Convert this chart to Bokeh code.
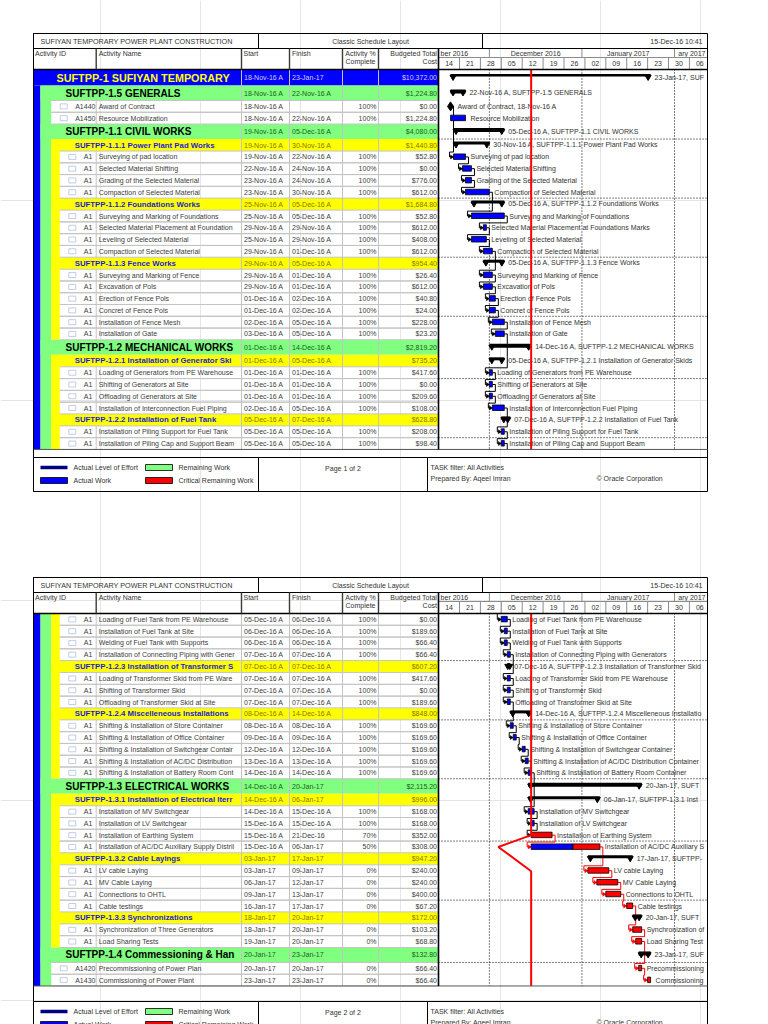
import datetime as dt
from bokeh.plotting import figure
from bokeh.models import Range1d, ColumnDataSource
from bokeh.core.properties import value
from bokeh.embed import file_html
from bokeh.resources import INLINE

# ---------------------------------------------------------------- data
row_levels = [
    "P", "W1", "A", "A", "W1", "W2", "A", "A", "A", "A",
    "W2", "A", "A", "A", "A", "W2", "A", "A", "A", "A",
    "A", "A", "W1", "W2", "A", "A", "A", "A", "W2", "A",
    "A",
    "A", "A", "A", "A", "W2", "A", "A", "A", "W2", "A",
    "A", "A", "A", "A", "W1", "W2", "A", "A", "A", "A",
    "W2", "A", "A", "A", "A", "W2", "A", "A", "W1", "A",
    "A",
]
activity_ids = [
    "SUFTPP-1", "SUFTPP-1.5", "A1440", "A1450", "SUFTPP-1.1", "SUFTPP-1.1.1", "A1", "A1", "A1", "A1",
    "SUFTPP-1.1.2", "A1", "A1", "A1", "A1", "SUFTPP-1.1.3", "A1", "A1", "A1", "A1",
    "A1", "A1", "SUFTPP-1.2", "SUFTPP-1.2.1", "A1", "A1", "A1", "A1", "SUFTPP-1.2.2", "A1",
    "A1",
    "A1", "A1", "A1", "A1", "SUFTPP-1.2.3", "A1", "A1", "A1", "SUFTPP-1.2.4", "A1",
    "A1", "A1", "A1", "A1", "SUFTPP-1.3", "SUFTPP-1.3.1", "A1", "A1", "A1", "A1",
    "SUFTPP-1.3.2", "A1", "A1", "A1", "A1", "SUFTPP-1.3.3", "A1", "A1", "SUFTPP-1.4", "A1420",
    "A1430",
]
table_names = [
    "SUFIYAN TEMPORARY", "GENERALS", "Award of Contract", "Resource Mobilization", "CIVIL WORKS",
    "Power Plant Pad Works", "Surveying of pad location", "Selected Material Shifting",
    "Grading of the Selected Material", "Compaction of Selected Material",
    "Foundations Works", "Surveying and Marking of Foundations", "Selected Material Placement at Foundation",
    "Leveling of Selected Material", "Compaction of Selected Material",
    "Fence Works", "Surveying and Marking of Fence", "Excavation of Pols", "Erection of Fence Pols",
    "Concret of Fence Pols", "Installation of Fence Mesh", "Installation of Gate",
    "MECHANICAL WORKS", "Installation of Generator Ski", "Loading of Generators from PE Warehouse",
    "Shifting of Generators at Site", "Offloading of Generators at Site",
    "Installation of Interconnection Fuel Piping", "Installation of Fuel Tank",
    "Installation of Piling Support for Fuel Tank", "Installation of Piling Cap and Support Beam",
    "Loading of Fuel Tank from PE Warehouse", "Installation of Fuel Tank at Site",
    "Welding of Fuel Tank with Supports", "Installation of Connecting Piping with Gener",
    "Installation of Transformer S", "Loading of Transformer Skid from PE Ware",
    "Shifting of Transformer Skid", "Offloading of Transformer Skid at Site",
    "Miscelleneous Installations", "Shifting & Installation of Store Container",
    "Shifting & Installation of Office Container", "Shifting & Installation of Switchgear Contair",
    "Shifting & Installation of AC/DC Distribution", "Shifting & Installation of Battery Room Cont",
    "ELECTRICAL WORKS", "Installation of Electrical Iterr", "Installation of MV Switchgear",
    "Installation of LV Switchgear", "Installation of Earthing System",
    "Installation of AC/DC Auxiliary Supply Distril", "Cable Layings", "LV cable Laying",
    "MV Cable Laying", "Connections to OHTL", "Cable testings", "Synchronizations",
    "Synchronization of Three Generators", "Load Sharing Tests", "Commessioning & Han",
    "Precommissioning of Power Plan", "Commissioning of Power Plant",
]
# bar labels as they are visible up to the page edge
bar_labels = [
    "23-Jan-17, SUF",
    "22-Nov-16 A, SUFTPP-1.5  GENERALS",
    "Award of Contract, 18-Nov-16 A",
    "Resource Mobilization",
    "05-Dec-16 A, SUFTPP-1.1  CIVIL WORKS",
    "30-Nov-16 A, SUFTPP-1.1.1  Power Plant Pad Works",
    "Surveying of pad location", "Selected Material Shifting",
    "Grading of the Selected Material", "Compaction of Selected Material",
    "05-Dec-16 A, SUFTPP-1.1.2  Foundations Works",
    "Surveying and Marking of Foundations", "Selected Material Placement at Foundations Marks",
    "Leveling of Selected Material", "Compaction of Selected Material",
    "05-Dec-16 A, SUFTPP-1.1.3  Fence Works",
    "Surveying and Marking of Fence", "Excavation of Pols", "Erection of Fence Pols",
    "Concret of Fence Pols", "Installation of Fence Mesh", "Installation of Gate",
    "14-Dec-16 A, SUFTPP-1.2  MECHANICAL WORKS",
    "05-Dec-16 A, SUFTPP-1.2.1  Installation of Generator Skids",
    "Loading of Generators from PE Warehouse", "Shifting of Generators at Site",
    "Offloading of Generators at Site", "Installation of Interconnection Fuel Piping",
    "07-Dec-16 A, SUFTPP-1.2.2  Installation of Fuel Tank",
    "Installation of Piling Support for Fuel Tank", "Installation of Piling Cap and Support Beam",
    "Loading of Fuel Tank from PE Warehouse", "Installation of Fuel Tank at Site",
    "Welding of Fuel Tank with Supports", "Installation of Connecting Piping with Generators",
    "07-Dec-16 A, SUFTPP-1.2.3  Installation of Transformer Skid",
    "Loading of Transformer Skid from PE Warehouse", "Shifting of Transformer Skid",
    "Offloading of Transformer Skid at Site",
    "14-Dec-16 A, SUFTPP-1.2.4  Miscelleneous Installatio",
    "Shifting & Installation of Store Container", "Shifting & Installation of Office Container",
    "Shifting & Installation of Switchgear Container",
    "Shifting & Installation of AC/DC Distribution Container",
    "Shifting & Installation of Battery Room Container",
    "20-Jan-17, SUFT",
    "06-Jan-17, SUFTPP-1.3.1  Inst",
    "Installation of MV Switchgear", "Installation of LV Switchgear",
    "Installation of Earthing System", "Installation of AC/DC Auxiliary S",
    "17-Jan-17, SUFTPP-",
    "LV cable Laying", "MV Cable Laying", "Connections to OHTL", "Cable testings",
    "20-Jan-17, SUFT",
    "Synchronization of", "Load Sharing Test",
    "23-Jan-17, SUF",
    "Precommissioning", "Commissioning",
]
start_text = [
    "18-Nov-16 A", "18-Nov-16 A", "18-Nov-16 A", "18-Nov-16 A", "19-Nov-16 A", "19-Nov-16 A", "19-Nov-16 A", "22-Nov-16 A", "23-Nov-16 A", "23-Nov-16 A",
    "25-Nov-16 A", "25-Nov-16 A", "29-Nov-16 A", "25-Nov-16 A", "29-Nov-16 A", "29-Nov-16 A", "29-Nov-16 A", "29-Nov-16 A", "01-Dec-16 A", "01-Dec-16 A",
    "02-Dec-16 A", "03-Dec-16 A", "01-Dec-16 A", "01-Dec-16 A", "01-Dec-16 A", "01-Dec-16 A", "01-Dec-16 A", "02-Dec-16 A", "05-Dec-16 A", "05-Dec-16 A",
    "05-Dec-16 A",
    "05-Dec-16 A", "06-Dec-16 A", "06-Dec-16 A", "07-Dec-16 A", "07-Dec-16 A", "07-Dec-16 A", "07-Dec-16 A", "07-Dec-16 A", "08-Dec-16 A", "08-Dec-16 A",
    "09-Dec-16 A", "12-Dec-16 A", "13-Dec-16 A", "14-Dec-16 A", "14-Dec-16 A", "14-Dec-16 A", "14-Dec-16 A", "15-Dec-16 A", "15-Dec-16 A", "15-Dec-16 A",
    "03-Jan-17", "03-Jan-17", "06-Jan-17", "09-Jan-17", "16-Jan-17", "18-Jan-17", "18-Jan-17", "19-Jan-17", "20-Jan-17", "20-Jan-17",
    "23-Jan-17",
]
finish_text = [
    "23-Jan-17", "22-Nov-16 A", "", "22-Nov-16 A", "05-Dec-16 A", "30-Nov-16 A", "22-Nov-16 A", "24-Nov-16 A", "24-Nov-16 A", "30-Nov-16 A",
    "05-Dec-16 A", "05-Dec-16 A", "29-Nov-16 A", "29-Nov-16 A", "01-Dec-16 A", "05-Dec-16 A", "01-Dec-16 A", "01-Dec-16 A", "02-Dec-16 A", "02-Dec-16 A",
    "05-Dec-16 A", "05-Dec-16 A", "14-Dec-16 A", "05-Dec-16 A", "01-Dec-16 A", "01-Dec-16 A", "01-Dec-16 A", "05-Dec-16 A", "07-Dec-16 A", "05-Dec-16 A",
    "05-Dec-16 A",
    "06-Dec-16 A", "06-Dec-16 A", "06-Dec-16 A", "07-Dec-16 A", "07-Dec-16 A", "07-Dec-16 A", "07-Dec-16 A", "07-Dec-16 A", "14-Dec-16 A", "08-Dec-16 A",
    "09-Dec-16 A", "12-Dec-16 A", "13-Dec-16 A", "14-Dec-16 A", "20-Jan-17", "06-Jan-17", "15-Dec-16 A", "15-Dec-16 A", "21-Dec-16", "06-Jan-17",
    "17-Jan-17", "09-Jan-17", "12-Jan-17", "13-Jan-17", "17-Jan-17", "20-Jan-17", "20-Jan-17", "20-Jan-17", "23-Jan-17", "20-Jan-17",
    "23-Jan-17",
]
pct_complete = [
    None, None, 100, 100, None, None, 100, 100, 100, 100,
    None, 100, 100, 100, 100, None, 100, 100, 100, 100,
    100, 100, None, None, 100, 100, 100, 100, None, 100,
    100,
    100, 100, 100, 100, None, 100, 100, 100, None, 100,
    100, 100, 100, 100, None, None, 100, 100, 70, 50,
    None, 0, 0, 0, 0, None, 0, 0, None, 0,
    0,
]
costs = [
    "$10,372.00", "$1,224.80", "$0.00", "$1,224.80", "$4,080.00", "$1,440.80", "$52.80", "$0.00", "$776.00", "$612.00",
    "$1,684.80", "$52.80", "$612.00", "$408.00", "$612.00", "$954.40", "$26.40", "$612.00", "$40.80", "$24.00",
    "$228.00", "$23.20", "$2,819.20", "$735.20", "$417.60", "$0.00", "$209.60", "$108.00", "$628.80", "$208.00",
    "$98.40",
    "$0.00", "$189.60", "$66.40", "$66.40", "$607.20", "$417.60", "$0.00", "$189.60", "$848.00", "$169.60",
    "$169.60", "$169.60", "$169.60", "$169.60", "$2,115.20", "$996.00", "$168.00", "$168.00", "$352.00", "$308.00",
    "$947.20", "$240.00", "$240.00", "$400.00", "$67.20", "$172.00", "$103.20", "$68.80", "$132.80", "$66.40",
    "$66.40",
]
predecessors = [
    -1, -1, -1, -1, -1, -1, 2, 6, 7, 8,
    -1, 9, 11, 12, 13, -1, 14, 16, 17, 18,
    19, 20, -1, -1, 21, 24, 25, 26, -1, 27,
    29,
    30, 31, 32, 33, -1, 34, 36, 37, -1, 38,
    40, 41, 42, 43, -1, -1, 44, 47, 48, 49,
    -1, 50, 52, 53, 54, -1, 55, 57, -1, 58,
    60,
]
actual_through = {49: "15-Dec-16", 50: "29-Dec-16"}   # end of blue part of in-progress bars
data_date = "15-Dec-16"
progress_dates = ["15-Dec-16", "15-Dec-16", "04-Dec-16", "15-Dec-16", "15-Dec-16"]
progress_rows = [31, 49, 50, 52, 61]
progress_frac = [0.0, 0.5, 0.5, 0.55, 1.0]

month_labels_shown = ["ber 2016", "December 2016", "January 2017", "ary 2017"]
month_starts = ["01-Nov-16", "01-Dec-16", "01-Jan-17", "01-Feb-17"]
week_starts = ["14-Nov-16", "21-Nov-16", "28-Nov-16", "05-Dec-16", "12-Dec-16", "19-Dec-16", "26-Dec-16",
               "02-Jan-17", "09-Jan-17", "16-Jan-17", "23-Jan-17", "30-Jan-17", "06-Feb-17"]

report_title = "SUFIYAN TEMPORARY POWER PLANT CONSTRUCTION"
layout_name = "Classic Schedule Layout"
print_stamp = "15-Dec-16 10:41"
page_labels = ["Page 1 of 2", "Page 2 of 2"]
legend_labels = ["Actual Level of Effort", "Actual Work", "Remaining Work", "Critical Remaining Work"]
legend_colors = ["#000080", "#0000FF", "#80FF80", "#FF0000"]
footer_lines = ["TASK filter: All Activities", "Prepared By: Aqeel Imran"]
footer_copy = "\u00a9 Oracle Corporation"

# ---------------------------------------------------------------- layout
FONT = value("Liberation Sans")
X0, X1, Y0, Y1 = 0, 708, 0, 1024
PAGE_L, PAGE_R, PAGE_T = 33, 707, 33
HDR1_B, MONTH_B, HDR2_B = 48, 57, 69
FOOT_T, PAGE_B = 457, 491
PAGE_OFF = [0, 544]
ROWS_PER_PAGE = 31
C_NAME, C_START, C_FIN, C_PCT, C_COST, C_GANTT = 95.7, 241, 289, 342, 378, 438
BAND_X = [33, 40, 50.7, 59.3]
ROW_H = {"P": 16.0, "W1": 15.0, "W2": 12.0, "A": 11.77}
TITLE_DIV, STAMP_DIV, PAGE_DIV = 258, 482, 427

DAY_MS = 86400000.0
DAY_PX = 2.986
PX_MS = DAY_MS / DAY_PX
ANCHOR_DATE, ANCHOR_X = "21-Nov-16", 459.0
EPOCH = dt.datetime(1970, 1, 1)


def to_dt(s):
    return dt.datetime.strptime(s[:9], "%d-%b-%y")


def t_ms(s):
    return (to_dt(s) - EPOCH).total_seconds() * 1000.0


t0 = t_ms(ANCHOR_DATE) + (X0 - ANCHOR_X) * PX_MS
t1 = t_ms(ANCHOR_DATE) + (X1 - ANCHOR_X) * PX_MS

p = figure(width=X1 - X0, height=Y1 - Y0, x_range=Range1d(X0, X1), y_range=Range1d(Y1, Y0),
           output_backend="svg", toolbar_location=None, x_axis_location=None, y_axis_location=None,
           min_border=0, outline_line_color=None, title=None)
p.extra_x_ranges = {"t": Range1d(t0, t1)}
p.background_fill_color = "white"
p.border_fill_color = "white"


def quads(l, r, t, b, fill, line=None, lw=1.0, rng="default"):
    if not l:
        return
    if isinstance(fill, str):
        fill = [fill] * len(l)
    src = ColumnDataSource(dict(l=l, r=r, t=t, b=b, f=fill))
    p.quad(left="l", right="r", top="t", bottom="b", source=src, fill_color="f",
           line_color=line, line_width=lw, x_range_name=rng)


def segs(x0, y0, x1, y1, color, width=1.0, dash="solid", rng="default"):
    if not x0:
        return
    src = ColumnDataSource(dict(x0=x0, y0=y0, x1=x1, y1=y1))
    p.segment("x0", "y0", "x1", "y1", source=src, line_color=color, line_width=width,
              line_dash=dash, x_range_name=rng)


def texts(xs, ys, labels, size, colors="#333333", align="left", baseline="middle",
          bold=False, rng="default", x_offset=0):
    if not labels:
        return
    if isinstance(colors, str):
        colors = [colors] * len(labels)
    src = ColumnDataSource(dict(x=xs, y=ys, text=labels, c=colors))
    p.text(x="x", y="y", text="text", source=src, text_color="c", text_font=FONT,
           text_font_size=value(f"{size}px"), text_font_style="bold" if bold else "normal",
           text_align=align, text_baseline=baseline, x_offset=x_offset, x_range_name=rng)


# row geometry
n = len(row_levels)
page_of = [i // ROWS_PER_PAGE for i in range(n)]
rows_top = [HDR2_B + o for o in PAGE_OFF]
rows_end = list(rows_top)
ytop, ybot = [], []
for i, lev in enumerate(row_levels):
    pg = page_of[i]
    ytop.append(rows_end[pg])
    rows_end[pg] += ROW_H[lev]
    ybot.append(rows_end[pg])
yc = [(a + b) / 2 for a, b in zip(ytop, ybot)]
under_w2 = []
cur = None
for lev in row_levels:
    if lev != "A":
        cur = lev
    under_w2.append(cur == "W2")
white_x = [BAND_X[3] if under_w2[i] else BAND_X[2] for i in range(n)]

# ---------------------------------------------------------------- table fills
LEVEL_FILL = {"P": "#0000FF", "W1": "#80FF80", "W2": "#FFFF00"}
LEVEL_LEFT = {"P": BAND_X[0], "W1": BAND_X[1], "W2": BAND_X[2]}
fl, fr, ft, fb, fc = [], [], [], [], []
for pg in range(2):
    idx = [i for i in range(n) if page_of[i] == pg]
    top = ybot[idx[0]] if row_levels[idx[0]] == "P" else ytop[idx[0]]
    fl += [BAND_X[0], BAND_X[1]]; fr += [BAND_X[1], BAND_X[2]]
    ft += [top, top]; fb += [rows_end[pg], rows_end[pg]]; fc += ["#0000FF", "#80FF80"]
runs, cur = [], None
for i in range(n):
    inside = row_levels[i] == "W2" or (row_levels[i] == "A" and under_w2[i])
    if inside:
        if cur is None or page_of[cur[1]] != page_of[i]:
            if cur:
                runs.append(cur)
            cur = [i, i]
        else:
            cur[1] = i
    elif cur:
        runs.append(cur)
        cur = None
if cur:
    runs.append(cur)
for a, b in runs:
    fl.append(BAND_X[2]); fr.append(BAND_X[3]); ft.append(ytop[a]); fb.append(ybot[b]); fc.append("#FFFF00")
for i, lev in enumerate(row_levels):
    if lev in LEVEL_FILL:
        fl.append(LEVEL_LEFT[lev]); fr.append(C_GANTT); ft.append(ytop[i]); fb.append(ybot[i])
        fc.append(LEVEL_FILL[lev])
quads(fl, fr, ft, fb, fc)

# table grid
gx0, gy0, gx1, gy1 = [], [], [], []
for i, lev in enumerate(row_levels):
    if lev == "A":
        for y in (ytop[i], ybot[i]):
            gx0.append(white_x[i]); gx1.append(C_GANTT); gy0.append(y); gy1.append(y)
        gx0.append(C_NAME); gx1.append(C_NAME); gy0.append(ytop[i]); gy1.append(ybot[i])
for pg in range(2):
    for x in (C_START, C_FIN, C_PCT, C_COST):
        gx0.append(x); gx1.append(x); gy0.append(rows_top[pg]); gy1.append(rows_end[pg])
segs(gx0, gy0, gx1, gy1, "#c4c4c4", 1.0)

# activity icons
icons = [i for i in range(n) if row_levels[i] == "A"]
quads([white_x[i] + 9 for i in icons], [white_x[i] + 16 for i in icons],
      [yc[i] - 2.5 for i in icons], [yc[i] + 2.5 for i in icons], "#ffffff", line="#b0c2dc", lw=0.8)

# ---------------------------------------------------------------- gantt guides
vx, vy0, vy1 = [], [], []
for pg in range(2):
    for m in month_starts[1:]:
        vx.append(t_ms(m)); vy0.append(rows_top[pg]); vy1.append(rows_end[pg])
segs(vx, vy0, vx, vy1, "#000000", 1.0, "1 2", "t")
hx0, hy, hx1 = [], [], []
for i in range(n):
    if i % 5 == 4:
        hx0.append(C_GANTT); hx1.append(PAGE_R); hy.append(ybot[i])
segs(hx0, hy, hx1, hy, "#000000", 1.0, "1 2")

# ---------------------------------------------------------------- relationships
conn = {"#000000": ([], []), "#FF0000": ([], [])}
heads = {"#000000": ([], []), "#FF0000": ([], [])}
for si, pi in enumerate(predecessors):
    if pi < 0:
        continue
    xs_ = t_ms(start_text[si])
    xf = t_ms(start_text[pi]) if finish_text[pi] == "" else t_ms(finish_text[pi]) + DAY_MS
    col = "#FF0000" if pct_complete[pi] < 100 else "#000000"
    xa, xb = xf + 3 * PX_MS, xs_ - 4 * PX_MS
    if page_of[si] == page_of[pi]:
        conn[col][0].append([xf, xa, xa, xb, xb, xs_])
        conn[col][1].append([yc[pi], yc[pi], ytop[si] + 1, ytop[si] + 1, yc[si], yc[si]])
    else:
        conn[col][0].append([xf, xa, xa])
        conn[col][1].append([yc[pi], yc[pi], rows_end[page_of[pi]]])
        conn[col][0].append([xb, xb, xs_])
        conn[col][1].append([rows_top[page_of[si]], yc[si], yc[si]])
    heads[col][0].append([xs_ - 3 * PX_MS, xs_ - 3 * PX_MS, xs_])
    heads[col][1].append([yc[si] - 2, yc[si] + 2, yc[si]])
for col in conn:
    if conn[col][0]:
        p.multi_line(xs=conn[col][0], ys=conn[col][1], line_color=col, line_width=1, x_range_name="t")
        p.patches(xs=heads[col][0], ys=heads[col][1], fill_color=col, line_color=col,
                  line_width=0.5, x_range_name="t")

# ---------------------------------------------------------------- bars
SUM_H = {"P": 2.5, "W1": 4.0, "W2": 3.0}
sl, sr, st, sb = [], [], [], []
tri_x, tri_y = [], []
blue_b, red_b = ([], [], [], []), ([], [], [], [])
mil_x, mil_y = [], []
lab_x, lab_y, lab_t, lab_off = [], [], [], []
for i, lev in enumerate(row_levels):
    s = t_ms(start_text[i])
    if lev != "A":
        f = t_ms(finish_text[i]) + DAY_MS
        top = yc[i] - 3.5
        sl.append(s); sr.append(f); st.append(top); sb.append(top + SUM_H[lev])
        tri_x += [s + 2.5 * PX_MS, f - 2.5 * PX_MS]; tri_y += [yc[i] - 0.5, yc[i] - 0.5]
        lab_x.append(f); lab_y.append(yc[i] - 0.5); lab_t.append(bar_labels[i]); lab_off.append(4)
        continue
    if finish_text[i] == "":
        mil_x.append(s); mil_y.append(yc[i])
        lab_x.append(s); lab_y.append(yc[i]); lab_t.append(bar_labels[i]); lab_off.append(7)
        continue
    f = t_ms(finish_text[i]) + DAY_MS
    pc = pct_complete[i]
    split = s if pc == 0 else (f if pc == 100 else t_ms(actual_through[i]))
    if split > s:
        for lst, v in zip(blue_b, (s, split, yc[i] - 3, yc[i] + 2.5)):
            lst.append(v)
    if f > split:
        for lst, v in zip(red_b, (split, f, yc[i] - 3, yc[i] + 2.5)):
            lst.append(v)
    lab_x.append(f); lab_y.append(yc[i]); lab_t.append(bar_labels[i]); lab_off.append(5)

quads(sl, sr, st, sb, "#000000", rng="t")
p.scatter(x=tri_x, y=tri_y, marker="inverted_triangle", size=6, fill_color="#000000",
          line_color="#000000", x_range_name="t")
quads(*blue_b, "#0000FF", line="#000000", lw=0.8, rng="t")
quads(*red_b, "#FF0000", line="#000000", lw=0.8, rng="t")
p.scatter(x=mil_x, y=mil_y, marker="diamond", size=9, fill_color="#000000",
          line_color="#000000", x_range_name="t")
for off in sorted(set(lab_off)):
    k = [j for j in range(len(lab_t)) if lab_off[j] == off]
    texts([lab_x[j] for j in k], [lab_y[j] for j in k], [lab_t[j] for j in k], 7,
          "#333333", rng="t", x_offset=off)

# data date line (page 1) and progress line (page 2)
p.line(x=[t_ms(data_date)] * 2, y=[ytop[0], ybot[ROWS_PER_PAGE - 1]], line_color="#FF0000",
       line_width=2, x_range_name="t")
p.line(x=[t_ms(d) for d in progress_dates],
       y=[ytop[r] + fr_ * (ybot[r] - ytop[r]) for r, fr_ in zip(progress_rows, progress_frac)],
       line_color="#FF0000", line_width=2, x_range_name="t")

# ---------------------------------------------------------------- table texts
heads_style = {"P": (BAND_X[0] + 23, 10.8, "#FFFF00"), "W1": (BAND_X[1] + 25, 10, "#000000"),
               "W2": (BAND_X[2] + 23.5, 7.8, "#1c1cd8")}
for lev, (hx, hs, hc) in heads_style.items():
    k = [i for i in range(n) if row_levels[i] == lev]
    texts([hx] * len(k), [yc[i] for i in k], [f"{activity_ids[i]}  {table_names[i]}" for i in k],
          hs, hc, bold=True)
DATE_COL = {"P": "#dccdf2", "W1": "#1d5c1d", "W2": "#857500", "A": "#3c3c3c"}
dcols = [DATE_COL[lev] for lev in row_levels]
texts([C_START + 2.5] * n, yc, start_text, 7, dcols)
texts([C_FIN + 2.5] * n, yc, finish_text, 7, dcols)
texts([C_GANTT - 1.5] * n, yc, costs, 7, dcols, align="right")
acts = [i for i in range(n) if row_levels[i] == "A"]
texts([C_COST - 2] * len(acts), [yc[i] for i in acts], [f"{pct_complete[i]}%" for i in acts], 7, "#3c3c3c",
      align="right")
texts([white_x[i] + 24 for i in acts], [yc[i] for i in acts], [activity_ids[i] for i in acts], 7, "#3c3c3c")
texts([C_NAME + 2.5] * len(acts), [yc[i] for i in acts], [table_names[i] for i in acts], 7, "#3c3c3c")

# ---------------------------------------------------------------- page frames, headers, footers
for pg, off in enumerate(PAGE_OFF):
    # timescale
    texts([t_ms(week_starts[0])], [52.5 + off], [month_labels_shown[0]], 7, "#333333",
          rng="t", x_offset=2)
    texts([(t_ms(month_starts[1]) + t_ms(month_starts[2])) / 2, (t_ms(month_starts[2]) + t_ms(month_starts[3])) / 2],
          [52.5 + off] * 2, month_labels_shown[1:3], 7, "#333333", align="center", rng="t")
    texts([PAGE_R - 2], [52.5 + off], [month_labels_shown[3]], 7, "#333333", align="right")
    texts([t_ms(w) + 3.5 * DAY_MS for w in week_starts], [63.2 + off] * len(week_starts),
          [w[:2] for w in week_starts], 7, "#333333", align="center", rng="t")
    segs([t_ms(m) for m in month_starts[1:]], [HDR1_B + off] * 3, [t_ms(m) for m in month_starts[1:]],
         [MONTH_B + off] * 3, "#8c8c8c", 1.0, rng="t")
    segs([t_ms(w) for w in week_starts[1:]], [MONTH_B + off] * 12, [t_ms(w) for w in week_starts[1:]],
         [HDR2_B + off] * 12, "#8c8c8c", 1.0, rng="t")
    segs([C_GANTT], [MONTH_B + off], [PAGE_R], [MONTH_B + off], "#8c8c8c", 1.0)

    # title row
    texts([PAGE_L + 7], [41 + off], [report_title], 7.2, "#333333")
    texts([(TITLE_DIV + STAMP_DIV) / 2], [41 + off], [layout_name], 7, "#333333", align="center")
    texts([PAGE_R - 5], [41 + off], [print_stamp], 7, "#333333", align="right")

    # column headers
    texts([PAGE_L + 1.5, C_NAME + 2.5, C_START + 2, C_FIN + 2.5], [49.5 + off] * 4,
          ["Activity ID", "Activity Name", "Start", "Finish"], 7, "#333333", baseline="top")
    texts([(C_PCT + C_COST) / 2] * 2, [49.5 + off, 57 + off], ["Activity %", "Complete"], 7, "#333333",
          align="center", baseline="top")
    texts([C_GANTT - 1.5] * 2, [49.5 + off, 57 + off], ["Budgeted Total", "Cost"], 7, "#333333",
          align="right", baseline="top")

    # frame lines
    bx0 = [PAGE_L, PAGE_L, TITLE_DIV, STAMP_DIV, PAGE_L, PAGE_L, PAGE_L, PAGE_R, PAGE_L, TITLE_DIV, PAGE_DIV]
    by0 = [PAGE_T, HDR1_B, PAGE_T, PAGE_T, FOOT_T, PAGE_T, PAGE_B, PAGE_T, PAGE_T, FOOT_T, FOOT_T]
    bx1 = [PAGE_R, PAGE_R, TITLE_DIV, STAMP_DIV, PAGE_R, PAGE_L, PAGE_R, PAGE_R, PAGE_L, TITLE_DIV, PAGE_DIV]
    by1 = [PAGE_T, HDR1_B, HDR1_B, HDR1_B, FOOT_T, PAGE_B, PAGE_B, PAGE_B, PAGE_B, PAGE_B, PAGE_B]
    segs(bx0, [y + off for y in by0], bx1, [y + off for y in by1], "#000000", 1.0)
    segs([PAGE_L], [rows_end[pg]], [PAGE_R], [rows_end[pg]], "#555555", 1.0)
    segs([PAGE_L], [HDR2_B + off], [PAGE_R], [HDR2_B + off], "#000000", 1.6)
    cx = [C_NAME, C_START, C_FIN, C_PCT, C_COST]
    segs(cx, [HDR1_B + off] * 5, cx, [HDR2_B + off] * 5, "#3a3a3a", 1.4)
    segs([C_GANTT], [HDR1_B + off], [C_GANTT], [rows_end[pg]], "#000000", 1.6)

    # footer legend
    ly = [467 + off, 480 + off, 467 + off, 480 + off]
    lx = [40, 40, 145, 145]
    hh = [1.7, 3, 3, 3]
    quads([lx[0]], [lx[0] + 27], [ly[0] - hh[0]], [ly[0] + hh[0]], legend_colors[0])
    quads([lx[j] for j in (1, 2, 3)], [lx[j] + 27 for j in (1, 2, 3)],
          [ly[j] - hh[j] for j in (1, 2, 3)], [ly[j] + hh[j] for j in (1, 2, 3)],
          [legend_colors[j] for j in (1, 2, 3)], line="#000000", lw=0.8)
    texts([x + 33 for x in lx], ly, legend_labels, 7, "#333333")
    texts([(TITLE_DIV + PAGE_DIV) / 2], [468 + off], [page_labels[pg]], 7, "#333333", align="center")
    texts([PAGE_DIV + 3, PAGE_DIV + 3], [467 + off, 477.5 + off], footer_lines, 7, "#333333")
    texts([596], [477.5 + off], [footer_copy], 7, "#333333")

open("out.html", "w").write(file_html(p, INLINE))
